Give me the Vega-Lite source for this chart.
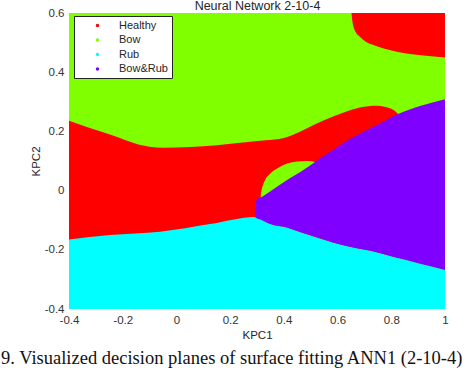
{
  "$schema": "https://vega.github.io/schema/vega-lite/v6.json",
  "width": 376,
  "height": 296,
  "autosize": "none",
  "padding": {"left": 69, "top": 13, "right": 29, "bottom": 63},
  "background": "white",
  "title": {
    "text": "9. Visualized decision planes of surface fitting ANN1 (2-10-4)",
    "orient": "bottom",
    "anchor": "start",
    "frame": "group",
    "dx": -68,
    "offset": 8,
    "font": "Liberation Serif",
    "fontSize": 18.5,
    "fontWeight": "normal",
    "color": "#111111"
  },
  "data": {
    "values": [
      {"reg": "bg", "cls": "Bow", "x": -0.4, "lo": -0.4, "hi": 0.6},
      {"reg": "bg", "cls": "Bow", "x": 1.0, "lo": -0.4, "hi": 0.6},

      {"reg": "band", "cls": "Healthy", "x": -0.4, "lo": -0.4, "hi": 0.236},
      {"reg": "band", "cls": "Healthy", "x": -0.25, "lo": -0.4, "hi": 0.19},
      {"reg": "band", "cls": "Healthy", "x": -0.1, "lo": -0.4, "hi": 0.148},
      {"reg": "band", "cls": "Healthy", "x": -0.05, "lo": -0.4, "hi": 0.145},
      {"reg": "band", "cls": "Healthy", "x": 0.05, "lo": -0.4, "hi": 0.147},
      {"reg": "band", "cls": "Healthy", "x": 0.15, "lo": -0.4, "hi": 0.153},
      {"reg": "band", "cls": "Healthy", "x": 0.237, "lo": -0.4, "hi": 0.162},
      {"reg": "band", "cls": "Healthy", "x": 0.33, "lo": -0.4, "hi": 0.17},
      {"reg": "band", "cls": "Healthy", "x": 0.4, "lo": -0.4, "hi": 0.178},
      {"reg": "band", "cls": "Healthy", "x": 0.46, "lo": -0.4, "hi": 0.199},
      {"reg": "band", "cls": "Healthy", "x": 0.52, "lo": -0.4, "hi": 0.226},
      {"reg": "band", "cls": "Healthy", "x": 0.583, "lo": -0.4, "hi": 0.25},
      {"reg": "band", "cls": "Healthy", "x": 0.683, "lo": -0.4, "hi": 0.281},
      {"reg": "band", "cls": "Healthy", "x": 0.747, "lo": -0.4, "hi": 0.287},
      {"reg": "band", "cls": "Healthy", "x": 0.795, "lo": -0.4, "hi": 0.278},
      {"reg": "band", "cls": "Healthy", "x": 0.815, "lo": -0.4, "hi": 0.268},
      {"reg": "band", "cls": "Healthy", "x": 0.828, "lo": -0.4, "hi": 0.255},

      {"reg": "ell", "cls": "Bow", "x": 0.314, "lo": -0.05, "hi": -0.011},
      {"reg": "ell", "cls": "Bow", "x": 0.32, "lo": -0.05, "hi": 0.012},
      {"reg": "ell", "cls": "Bow", "x": 0.33, "lo": -0.05, "hi": 0.036},
      {"reg": "ell", "cls": "Bow", "x": 0.348, "lo": -0.05, "hi": 0.056},
      {"reg": "ell", "cls": "Bow", "x": 0.378, "lo": -0.05, "hi": 0.076},
      {"reg": "ell", "cls": "Bow", "x": 0.415, "lo": -0.05, "hi": 0.092},
      {"reg": "ell", "cls": "Bow", "x": 0.449, "lo": -0.05, "hi": 0.098},
      {"reg": "ell", "cls": "Bow", "x": 0.486, "lo": -0.05, "hi": 0.1},
      {"reg": "ell", "cls": "Bow", "x": 0.516, "lo": -0.05, "hi": 0.097},
      {"reg": "ell", "cls": "Bow", "x": 0.527, "lo": -0.05, "hi": 0.093},

      {"reg": "cyan", "cls": "Rub", "x": -0.4, "lo": -0.4, "hi": -0.165},
      {"reg": "cyan", "cls": "Rub", "x": -0.247, "lo": -0.4, "hi": -0.15},
      {"reg": "cyan", "cls": "Rub", "x": -0.061, "lo": -0.4, "hi": -0.139},
      {"reg": "cyan", "cls": "Rub", "x": 0.125, "lo": -0.4, "hi": -0.113},
      {"reg": "cyan", "cls": "Rub", "x": 0.2925, "lo": -0.4, "hi": -0.089},
      {"reg": "cyan", "cls": "Rub", "x": 0.35, "lo": -0.4, "hi": -0.113},
      {"reg": "cyan", "cls": "Rub", "x": 0.412, "lo": -0.4, "hi": -0.125},
      {"reg": "cyan", "cls": "Rub", "x": 0.46, "lo": -0.4, "hi": -0.14},
      {"reg": "cyan", "cls": "Rub", "x": 0.583, "lo": -0.4, "hi": -0.175},
      {"reg": "cyan", "cls": "Rub", "x": 0.646, "lo": -0.4, "hi": -0.19},
      {"reg": "cyan", "cls": "Rub", "x": 0.709, "lo": -0.4, "hi": -0.201},
      {"reg": "cyan", "cls": "Rub", "x": 0.825, "lo": -0.4, "hi": -0.228},
      {"reg": "cyan", "cls": "Rub", "x": 0.907, "lo": -0.4, "hi": -0.247},
      {"reg": "cyan", "cls": "Rub", "x": 1.0, "lo": -0.4, "hi": -0.268},

      {"reg": "purple", "cls": "Bow&Rub", "x": 0.2925, "lo": -0.089, "hi": -0.089},
      {"reg": "purple", "cls": "Bow&Rub", "x": 0.299, "lo": -0.093, "hi": -0.028},
      {"reg": "purple", "cls": "Bow&Rub", "x": 0.311, "lo": -0.097, "hi": -0.024},
      {"reg": "purple", "cls": "Bow&Rub", "x": 0.35, "lo": -0.113, "hi": -0.002},
      {"reg": "purple", "cls": "Bow&Rub", "x": 0.412, "lo": -0.125, "hi": 0.036},
      {"reg": "purple", "cls": "Bow&Rub", "x": 0.46, "lo": -0.14, "hi": 0.062},
      {"reg": "purple", "cls": "Bow&Rub", "x": 0.516, "lo": -0.155, "hi": 0.097},
      {"reg": "purple", "cls": "Bow&Rub", "x": 0.583, "lo": -0.175, "hi": 0.137},
      {"reg": "purple", "cls": "Bow&Rub", "x": 0.646, "lo": -0.19, "hi": 0.174},
      {"reg": "purple", "cls": "Bow&Rub", "x": 0.709, "lo": -0.201, "hi": 0.205},
      {"reg": "purple", "cls": "Bow&Rub", "x": 0.739, "lo": -0.207, "hi": 0.218},
      {"reg": "purple", "cls": "Bow&Rub", "x": 0.825, "lo": -0.228, "hi": 0.259},
      {"reg": "purple", "cls": "Bow&Rub", "x": 0.907, "lo": -0.247, "hi": 0.286},
      {"reg": "purple", "cls": "Bow&Rub", "x": 1.0, "lo": -0.268, "hi": 0.309},

      {"reg": "blob", "cls": "Healthy", "x": 0.652, "lo": 0.6, "hi": 0.6},
      {"reg": "blob", "cls": "Healthy", "x": 0.654, "lo": 0.58, "hi": 0.6},
      {"reg": "blob", "cls": "Healthy", "x": 0.658, "lo": 0.559, "hi": 0.6},
      {"reg": "blob", "cls": "Healthy", "x": 0.668, "lo": 0.535, "hi": 0.6},
      {"reg": "blob", "cls": "Healthy", "x": 0.683, "lo": 0.52, "hi": 0.6},
      {"reg": "blob", "cls": "Healthy", "x": 0.705, "lo": 0.503, "hi": 0.6},
      {"reg": "blob", "cls": "Healthy", "x": 0.733, "lo": 0.492, "hi": 0.6},
      {"reg": "blob", "cls": "Healthy", "x": 0.775, "lo": 0.479, "hi": 0.6},
      {"reg": "blob", "cls": "Healthy", "x": 0.82, "lo": 0.469, "hi": 0.6},
      {"reg": "blob", "cls": "Healthy", "x": 0.919, "lo": 0.456, "hi": 0.6},
      {"reg": "blob", "cls": "Healthy", "x": 1.0, "lo": 0.45, "hi": 0.6}
    ]
  },
  "encoding": {
    "x": {"field": "x", "type": "quantitative", "scale": {"domain": [-0.4, 1], "nice": false, "zero": false}, "axis": null},
    "y": {
      "field": "lo", "type": "quantitative", "stack": null,
      "scale": {"domain": [-0.4, 0.6], "nice": false, "zero": false},
      "axis": {
        "orient": "left", "title": "KPC2", "values": [-0.4, -0.2, 0, 0.2, 0.4, 0.6],
        "labelExpr": "replace(format(datum.value, '~g'), '−', '-')",
        "grid": false, "ticks": false, "domain": false, "labelFlush": false,
        "labelPadding": 5, "titlePadding": 3
      }
    },
    "y2": {"field": "hi"},
    "color": {
      "field": "cls", "type": "nominal",
      "scale": {"domain": ["Healthy", "Bow", "Rub", "Bow&Rub"], "range": ["#ff0000", "#80ff00", "#00ffff", "#8000ff"]},
      "legend": {
        "orient": "none", "legendX": 5, "legendY": 3, "title": null,
        "symbolType": "circle", "symbolSize": 12, "symbolStrokeWidth": 0, "symbolOpacity": 1,
        "symbolOffset": 14, "labelOffset": 16, "padding": 4, "rowPadding": 2.5,
        "strokeColor": "#262626", "fillColor": "white",
        "labelFont": "Liberation Sans", "labelFontSize": 11, "labelColor": "#262626"
      }
    }
  },
  "layer": [
    {
      "transform": [{"filter": "datum.reg === 'bg'"}],
      "mark": {"type": "area", "opacity": 1, "interpolate": "linear"},
      "encoding": {
        "x": {
          "field": "x", "type": "quantitative", "scale": {"domain": [-0.4, 1], "nice": false, "zero": false},
          "axis": {
            "orient": "bottom", "title": "KPC1", "values": [-0.4, -0.2, 0, 0.2, 0.4, 0.6, 0.8, 1],
            "labelExpr": "replace(format(datum.value, '~g'), '−', '-')",
            "grid": false, "ticks": false, "domain": false, "labelFlush": false,
            "labelPadding": 5, "titlePadding": 4
          }
        }
      }
    },
    {
      "transform": [{"filter": "datum.reg === 'band'"}],
      "mark": {"type": "area", "opacity": 1, "interpolate": "monotone"}
    },
    {
      "transform": [{"filter": "datum.reg === 'ell'"}],
      "mark": {"type": "area", "opacity": 1, "interpolate": "monotone"}
    },
    {
      "transform": [{"filter": "datum.reg === 'cyan'"}],
      "mark": {"type": "area", "opacity": 1, "interpolate": "monotone"}
    },
    {
      "transform": [{"filter": "datum.reg === 'purple'"}],
      "mark": {"type": "area", "opacity": 1, "interpolate": "monotone"}
    },
    {
      "transform": [{"filter": "datum.reg === 'blob'"}],
      "mark": {"type": "area", "opacity": 1, "interpolate": "monotone"},
      "encoding": {
        "x": {
          "field": "x", "type": "quantitative", "scale": {"domain": [-0.4, 1], "nice": false, "zero": false},
          "axis": {
            "orient": "top", "title": "Neural Network 2-10-4", "labels": false, "ticks": false, "domain": false, "grid": false,
            "titleFontSize": 12.5, "titlePadding": 4, "titleBaseline": "alphabetic"
          }
        }
      }
    }
  ],
  "config": {
    "view": {"stroke": null},
    "axis": {
      "labelFont": "Liberation Sans", "labelFontSize": 11.5, "labelColor": "#333333",
      "titleFont": "Liberation Sans", "titleFontSize": 11.5, "titleFontWeight": "normal", "titleColor": "#262626"
    }
  }
}
